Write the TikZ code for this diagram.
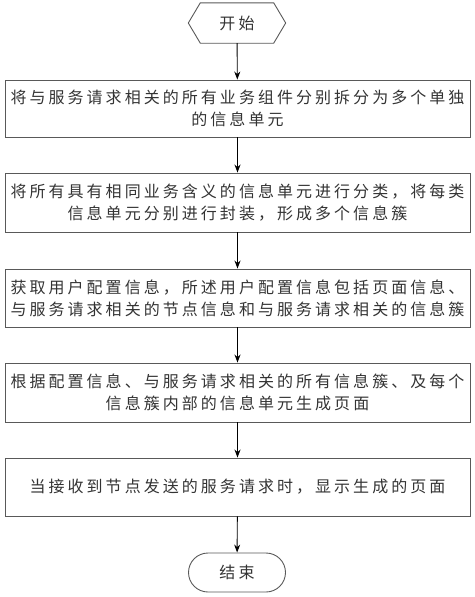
\documentclass[tikz,border=0pt]{standalone}
\usepackage{fontspec}
\newfontfamily\cjk[LetterSpace=19]{Noto Sans CJK SC}
\usetikzlibrary{calc,arrows.meta}
\begin{document}
\begin{tikzpicture}[x=1pt,y=-1pt,
  lbl/.style={font=\cjk\fontsize{16pt}{22pt}\selectfont, text=black!80, align=center, inner sep=0pt},
  stepbox/.style={lbl, draw=black!65, line width=0.9pt, minimum width=465pt},
  term/.style={lbl, minimum width=97pt, minimum height=40pt},
  edge/.style={draw=black, line width=0.9pt, -{Stealth[length=8pt,width=6pt]}}]
\useasboundingbox (0,0) rectangle (474,597);
\node[term] (start) at (237,23) {开始};
\draw[draw=black!65, line width=0.9pt] (start.west) -- ($(start.north west)+(12,0)$) -- ($(start.north east)+(-12,0)$) -- (start.east) -- ($(start.south east)+(-12,0)$) -- ($(start.south west)+(12,0)$) -- cycle;
\node[stepbox, minimum height=57pt] (s1) at (237.5,108.5) {将与服务请求相关的所有业务组件分别拆分为多个单独\\的信息单元};
\node[stepbox, minimum height=59pt] (s2) at (237.5,202.5) {将所有具有相同业务含义的信息单元进行分类，将每类\\信息单元分别进行封装，形成多个信息簇};
\node[stepbox, minimum height=58pt] (s3) at (237.5,298) {获取用户配置信息，所述用户配置信息包括页面信息、\\与服务请求相关的节点信息和与服务请求相关的信息簇};
\node[stepbox, minimum height=59pt] (s4) at (237.5,392.5) {根据配置信息、与服务请求相关的所有信息簇、及每个\\信息簇内部的信息单元生成页面};
\node[stepbox, minimum height=58pt] (s5) at (237.5,487) {当接收到节点发送的服务请求时，显示生成的页面};
\node[term, draw=black!65, line width=0.9pt, rounded corners=19.5pt, minimum height=39pt] (end) at (237,572.5) {结束};
\draw[edge] (start) -- (s1);
\draw[edge] (s1) -- (s2);
\draw[edge] (s2) -- (s3);
\draw[edge] (s3) -- (s4);
\draw[edge] (s4) -- (s5);
\draw[edge] (s5) -- (end);
\end{tikzpicture}
\end{document}
